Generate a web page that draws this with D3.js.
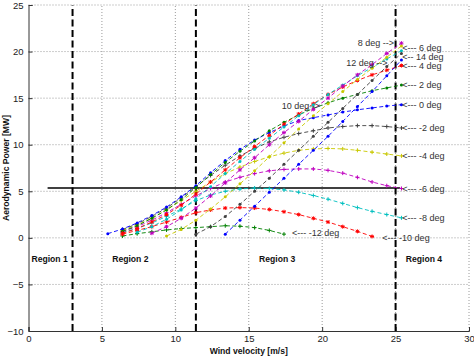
<!DOCTYPE html>
<html><head><meta charset="utf-8">
<script src="https://cdn.jsdelivr.net/npm/d3@7"></script>
<style>
html,body{margin:0;padding:0;background:#fff;}
svg text{font-family:"Liberation Sans",Arial,sans-serif;}
</style></head>
<body><svg id="c" width="474" height="356"></svg>
<script>
// ---------- data ----------
const windSpeed = [5.4,6.4,7.4,8.4,9.4,10.4,11.4,12.4,13.4,14.4,15.4,16.4,17.4,18.4,19.4,20.4,21.4,22.4,23.4,24.4,25.4];
const pitchAngles = [-12,-10,-8,-6,-4,-2,0,2,4,6,8,10,12,14];
const N = null;
const pM12 = [N,0.2,0.45,0.65,0.85,1.0,1.1,1.2,1.3,1.25,1.1,0.8,0.4,N,N,N,N,N,N,N,N];
const pM10 = [N,0.4,0.8,1.2,1.7,2.2,2.7,3.0,3.2,3.25,3.2,3.05,2.8,2.5,2.1,1.7,1.2,0.7,0.15,N,N];
const pM8  = [N,0.6,1.0,1.6,2.3,3.1,4.0,4.6,5.0,5.25,5.35,5.3,5.15,4.9,4.55,4.15,3.7,3.25,2.85,2.5,2.15];
const pM6  = [N,0.7,1.2,1.9,2.7,3.6,4.5,5.3,6.0,6.5,6.9,7.2,7.35,7.4,7.4,7.25,6.95,6.5,6.0,5.6,5.3];
const pM4  = [N,0.8,1.4,2.1,3.0,4.0,5.0,6.0,6.9,7.6,8.2,8.7,9.1,9.4,9.55,9.6,9.55,9.4,9.2,9.0,8.8];
const pM2  = [N,0.9,1.5,2.3,3.2,4.3,5.5,6.7,7.8,8.8,9.6,10.3,10.8,11.2,11.5,11.8,11.95,12.05,12.05,11.95,11.8];
const p0   = [0.45,0.95,1.6,2.4,3.3,4.4,5.6,7.0,8.3,9.5,10.5,11.3,12.0,12.6,12.9,13.2,13.5,13.75,13.95,14.15,14.3];
const p2   = [N,0.7,1.3,2.1,3.0,4.1,5.4,6.8,8.1,9.3,10.4,11.5,12.4,13.2,13.9,14.5,15.0,15.4,15.8,16.1,16.4];
const p4   = [N,0.5,1.0,1.7,2.5,3.5,4.7,6.0,7.3,8.6,9.8,11.0,12.2,13.3,14.4,15.4,16.2,16.9,17.5,18.0,18.5];
const p6   = [N,N,0.6,1.2,2.0,3.0,4.2,5.5,6.9,8.2,9.5,10.7,11.9,13.1,14.3,15.4,16.4,17.4,18.3,19.2,20.1];
const p8   = [N,N,N,0.5,1.2,2.1,3.2,4.5,5.9,7.3,8.6,10.0,11.3,12.5,13.8,15.0,16.3,17.5,18.6,19.8,20.9];
const p10  = [N,N,N,N,0.2,0.9,1.9,3.1,4.4,5.8,7.2,8.7,10.2,11.7,13.1,14.4,15.7,17.0,18.2,19.4,20.6];
const p12  = [N,N,N,N,N,N,0.4,1.2,2.3,3.6,5.0,6.4,7.9,9.4,10.9,12.4,13.9,15.4,16.9,18.4,19.8];
const p14  = [N,N,N,N,N,N,N,N,0.4,1.9,3.4,4.9,6.4,7.9,9.4,10.9,12.5,14.1,15.7,17.4,19.1];
const powerSeries = [pM12,pM10,pM8,pM6,pM4,pM2,p0,p2,p4,p6,p8,p10,p12,p14];
const seriesColors = ["#008000","#ff0000","#00bfbf","#bf00bf","#c8c800","#404040","#0000ff",
                      "#008000","#ff0000","#00bfbf","#bf00bf","#c8c800","#404040","#0000ff"];
const seriesMarkers = ["+","*","+","+","+","+",".",".","*",".","*",".",".","."];
const regionBounds = [3, 11.4, 25];
const regionNames = ["Region 1","Region 2","Region 3","Region 4"];
const regionLabelX = [0.2, 5.7, 15.7, 25.7];
const regionLabelY = -2.6;
const ratedPower = 5.35;
const ratedLineX = [1.3, 25.3];
const xTicks = [0,5,10,15,20,25,30];
const yTicks = [-10,-5,0,5,10,15,20,25];
// annotations: [text, v, P, anchor]
const annotations = [
  ["8 deg -->", 24.9, 20.95, "end"],
  ["12 deg -->", 24.45, 18.8, "end"],
  ["10 deg ->", 19.85, 14.2, "end"],
  ["<---  6 deg", 25.45, 20.35, "start"],
  ["<--  14 deg", 25.45, 19.4, "start"],
  ["<---  4 deg", 25.45, 18.45, "start"],
  ["<---  2 deg", 25.45, 16.4, "start"],
  ["<---  0 deg", 25.45, 14.3, "start"],
  ["<--- -2 deg", 25.45, 11.8, "start"],
  ["<--- -4 deg", 25.45, 8.8, "start"],
  ["<--- -6 deg", 25.45, 5.3, "start"],
  ["<--- -8 deg", 25.45, 2.2, "start"],
  ["<--- -10 deg", 24.1, 0.05, "start"],
  ["<--- -12 deg", 17.95, 0.5, "start"]
];

// ---------- chart ----------
const svg = d3.select("#c");
const x = d3.scaleLinear().domain([0,30]).range([28.5,469]);
const y = d3.scaleLinear().domain([-10,25]).range([331,5]);

// grid
const g = svg.append("g");
g.selectAll(".gx").data(xTicks.filter(t=>t>0)).enter().append("line")
  .attr("x1",d=>x(d)).attr("x2",d=>x(d)).attr("y1",y(-10)).attr("y2",y(25))
  .attr("stroke","#9a9a9a").attr("stroke-width",1).attr("stroke-dasharray","1,2");
g.selectAll(".gy").data(yTicks.filter(t=>t>-10)).enter().append("line")
  .attr("x1",x(0)).attr("x2",x(30)).attr("y1",d=>y(d)).attr("y2",d=>y(d))
  .attr("stroke","#9a9a9a").attr("stroke-width",1).attr("stroke-dasharray","1,2");

// axes
const xAxis = d3.axisBottom(x).tickValues(xTicks).tickSize(-4).tickPadding(4).tickFormat(d3.format("d"));
const yAxis = d3.axisLeft(y).tickValues(yTicks).tickSize(-4).tickPadding(5).tickFormat(d3.format("d"));
const ax = svg.append("g").attr("transform",`translate(0,${y(-10)})`).call(xAxis);
const ay = svg.append("g").attr("transform",`translate(${x(0)},0)`).call(yAxis);
[ax,ay].forEach(a=>{
  a.select(".domain").attr("stroke","#333").attr("stroke-width",1);
  a.selectAll(".tick line").attr("stroke","#333");
  a.selectAll("text").attr("font-size",9.5).attr("fill","#222")
   .style("font-family","'Liberation Sans',Arial,sans-serif");
});

// region boundaries
svg.selectAll(".rb").data(regionBounds).enter().append("line")
  .attr("x1",d=>x(d)).attr("x2",d=>x(d)).attr("y1",y(-10)).attr("y2",y(25))
  .attr("stroke","#000").attr("stroke-width",2).attr("stroke-dasharray","7,3.5");

// rated power line
svg.append("line").attr("x1",x(ratedLineX[0])).attr("x2",x(ratedLineX[1]))
  .attr("y1",y(ratedPower)).attr("y2",y(ratedPower))
  .attr("stroke","#000").attr("stroke-width",1.4);

// curves
const line = d3.line().defined(d=>d[1]!==null).x(d=>x(d[0])).y(d=>y(d[1]));
powerSeries.forEach((vals,i)=>{
  const pts = windSpeed.map((v,j)=>[v,vals[j]]);
  const col = seriesColors[i];
  svg.append("path").datum(pts).attr("d",line).attr("fill","none")
    .attr("stroke",col).attr("stroke-width",0.9).attr("stroke-dasharray","4,2.5");
  const mk = svg.append("g");
  pts.filter(d=>d[1]!==null).forEach(d=>{
    const cx=x(d[0]), cy=y(d[1]);
    const m = seriesMarkers[i];
    if(m==="."){
      mk.append("circle").attr("cx",cx).attr("cy",cy).attr("r",1.5).attr("fill",col);
    } else {
      const s=2.0;
      let p=`M${cx-s},${cy}L${cx+s},${cy}M${cx},${cy-s}L${cx},${cy+s}`;
      if(m==="*"){const t=s*0.75;p+=`M${cx-t},${cy-t}L${cx+t},${cy+t}M${cx-t},${cy+t}L${cx+t},${cy-t}`;}
      mk.append("path").attr("d",p).attr("stroke",col).attr("stroke-width",1).attr("fill","none");
    }
  });
});

// annotations
svg.selectAll(".ann").data(annotations).enter().append("text")
  .attr("x",d=>x(d[1])).attr("y",d=>y(d[2])).attr("dy","0.35em")
  .attr("text-anchor",d=>d[3]).attr("font-size",9).attr("fill","#333")
  .text(d=>d[0]);

// region labels
svg.selectAll(".rl").data(regionNames).enter().append("text")
  .attr("x",(d,i)=>x(regionLabelX[i])).attr("y",y(regionLabelY))
  .attr("font-size",8.6).attr("font-weight","bold").attr("fill","#111")
  .text(d=>d);

// axis titles
svg.append("text").attr("x",(x(0)+x(30))/2).attr("y",354).attr("text-anchor","middle")
  .attr("font-size",8.6).attr("font-weight","bold").attr("fill","#111").text("Wind velocity [m/s]");
svg.append("text").attr("transform",`translate(9,${(y(-10)+y(25))/2}) rotate(-90)`)
  .attr("text-anchor","middle").attr("font-size",8.6).attr("font-weight","bold").attr("fill","#111")
  .text("Aerodynamic Power [MW]");
</script></body></html>
